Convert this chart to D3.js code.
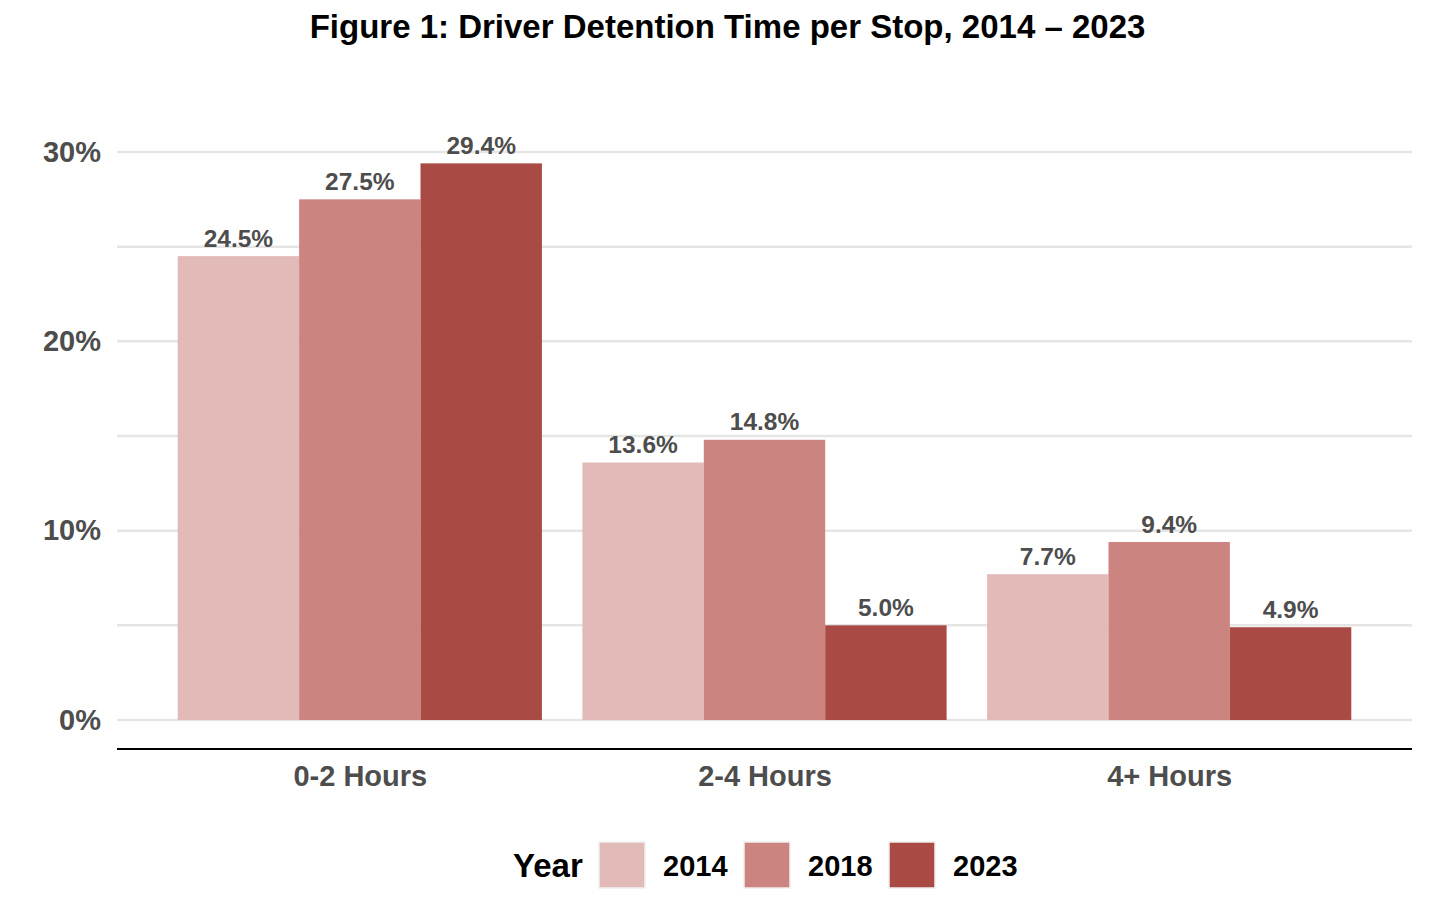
<!DOCTYPE html>
<html><head><meta charset="utf-8">
<script src="https://cdn.jsdelivr.net/npm/d3@7"></script>
<style>body{margin:0;background:#fff;} text{font-family:"Liberation Sans",Arial,sans-serif;font-weight:bold;}</style>
</head><body>
<svg id="chart" width="1430" height="912"></svg>
<script>
const categories = ["0-2 Hours", "2-4 Hours", "4+ Hours"];
const years = ["2014", "2018", "2023"];
const values2014 = [24.5, 13.6, 7.7];
const values2018 = [27.5, 14.8, 9.4];
const values2023 = [29.4, 5.0, 4.9];
const yTicks = [0, 10, 20, 30];
const colors = ["#e2bbb9", "#cc8481", "#a94a45"];
const series = [values2014, values2018, values2023];

(function () {
const svg = d3.select("#chart");
const pLeft = 117, pRight = 1412, pTop = 152, pBottom = 720;
// discrete scale with 0.6 unit expansion each side
const unit = (pRight - pLeft) / 3.2;
const x = d3.scalePoint().domain(categories).range([pLeft + 0.6 * unit, pRight - 0.6 * unit]);
const y = d3.scaleLinear().domain([0, 30]).range([pBottom, pTop]);
const groupW = 0.9 * unit;
const xSub = d3.scaleBand().domain(years).range([-groupW / 2, groupW / 2]).padding(0);

svg.append("text").attr("x", 727.5).attr("y", 37.5).attr("text-anchor", "middle")
  .attr("font-size", 33).attr("fill", "#000").text("Figure 1: Driver Detention Time per Stop, 2014 – 2023");

// grid
const grid = svg.append("g");
d3.range(0, 31, 5).forEach(v => {
  grid.append("line").attr("x1", pLeft).attr("x2", pRight).attr("y1", y(v)).attr("y2", y(v))
    .attr("stroke", "#e5e5e5").attr("stroke-width", 2.5);
});

// y axis labels
const yAxis = svg.append("g").attr("transform", `translate(${pLeft},0)`)
  .call(d3.axisLeft(y).tickValues(yTicks).tickFormat(d => d + "%").tickSize(0).tickPadding(16));
yAxis.select(".domain").remove();
yAxis.selectAll("text").attr("font-size", 29).attr("fill", "#4d4d4d")
  .style("font-family", '"Liberation Sans",Arial,sans-serif').style("font-weight", "bold");

// bars
years.forEach((yr, i) => {
  const g = svg.append("g");
  categories.forEach((c, j) => {
    const v = series[i][j];
    const bx = x(c) + xSub(yr);
    g.append("rect").attr("x", bx).attr("y", y(v)).attr("width", xSub.bandwidth())
      .attr("height", y(0) - y(v)).attr("fill", colors[i]);
    g.append("text").attr("x", bx + xSub.bandwidth() / 2).attr("y", y(v) - 9.5)
      .attr("text-anchor", "middle").attr("font-size", 24.5).attr("fill", "#4d4d4d")
      .text(v.toFixed(1) + "%");
  });
});

// x axis
const xAxis = svg.append("g").attr("transform", "translate(0,749)")
  .call(d3.axisBottom(x).tickSize(0).tickPadding(16));
xAxis.select(".domain").attr("d", `M${pLeft},0H${pRight}`).attr("stroke", "#000").attr("stroke-width", 2.2);
xAxis.selectAll("text").attr("font-size", 29).attr("fill", "#4d4d4d")
  .style("font-family", '"Liberation Sans",Arial,sans-serif').style("font-weight", "bold");

// legend
const lg = svg.append("g");
lg.append("text").attr("x", 513).attr("y", 877).attr("font-size", 33).attr("fill", "#000").text("Year");
const keyX = [599, 744, 889];
years.forEach((yr, i) => {
  lg.append("rect").attr("x", keyX[i]).attr("y", 842).attr("width", 46).attr("height", 46)
    .attr("fill", colors[i]).attr("stroke", "#f0f0f0").attr("stroke-width", 1.5);
  lg.append("text").attr("x", keyX[i] + 64).attr("y", 875.5).attr("font-size", 29).attr("fill", "#000").text(yr);
});
})();
</script>
</body></html>
